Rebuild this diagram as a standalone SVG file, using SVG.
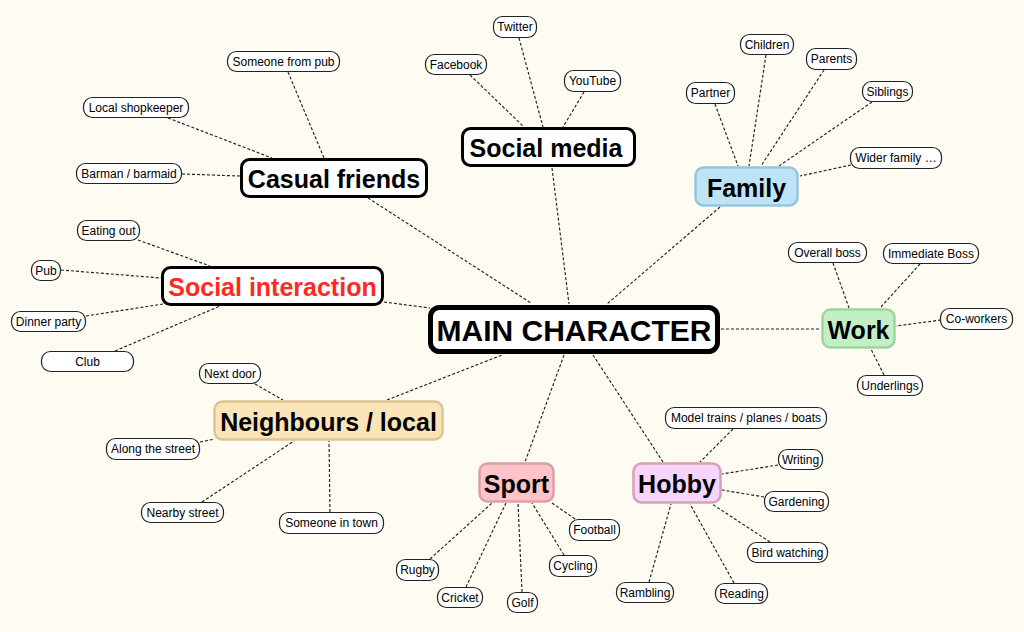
<svg xmlns="http://www.w3.org/2000/svg" width="1024" height="632" viewBox="0 0 1024 632">
<style>
.bg{fill:#fefbf2}
.ln{stroke:#222;stroke-width:1.15;stroke-dasharray:3 2;fill:none}
.leaf rect{fill:#fff;stroke:#222;stroke-width:1.2}
.leaf text{font-family:"Liberation Sans",Arial,sans-serif;font-size:12px;fill:#000;text-anchor:middle;dominant-baseline:central}
.topic text{font-family:"Liberation Sans",Arial,sans-serif;font-size:25px;font-weight:bold;fill:#000;text-anchor:middle;dominant-baseline:central}
.plain rect{fill:#fff;stroke:#000;stroke-width:3}
</style>
<rect class="bg" x="0" y="0" width="1024" height="632"/>
<g id="connectors">
<line class="ln" x1="368" y1="198" x2="531" y2="303"/>
<line class="ln" x1="552" y1="168" x2="569" y2="304"/>
<line class="ln" x1="720" y1="207" x2="607" y2="304"/>
<line class="ln" x1="384" y1="302" x2="430" y2="308"/>
<line class="ln" x1="387" y1="400" x2="502" y2="355"/>
<line class="ln" x1="564" y1="355" x2="525" y2="462"/>
<line class="ln" x1="593" y1="355" x2="663" y2="462"/>
<line class="ln" x1="721" y1="329" x2="821" y2="329"/>
<line class="ln" x1="288" y1="72" x2="324" y2="158"/>
<line class="ln" x1="168" y1="118" x2="272" y2="158"/>
<line class="ln" x1="182" y1="174" x2="240" y2="176"/>
<line class="ln" x1="519" y1="38" x2="543" y2="127"/>
<line class="ln" x1="470" y1="75" x2="524" y2="127"/>
<line class="ln" x1="584" y1="92" x2="563" y2="127"/>
<line class="ln" x1="715" y1="104" x2="738" y2="166"/>
<line class="ln" x1="766" y1="55" x2="749" y2="166"/>
<line class="ln" x1="824" y1="70" x2="761" y2="166"/>
<line class="ln" x1="872" y1="102" x2="779" y2="166"/>
<line class="ln" x1="851" y1="165" x2="800" y2="176"/>
<line class="ln" x1="138" y1="240" x2="210" y2="266"/>
<line class="ln" x1="61" y1="270" x2="161" y2="278"/>
<line class="ln" x1="86" y1="316" x2="163" y2="304"/>
<line class="ln" x1="115" y1="351" x2="220" y2="306"/>
<line class="ln" x1="833" y1="263" x2="849" y2="308"/>
<line class="ln" x1="920" y1="264" x2="880" y2="308"/>
<line class="ln" x1="941" y1="320" x2="896" y2="326"/>
<line class="ln" x1="884" y1="375" x2="871" y2="349"/>
<line class="ln" x1="255" y1="384" x2="283" y2="400"/>
<line class="ln" x1="200" y1="442" x2="215" y2="439"/>
<line class="ln" x1="202" y1="502" x2="294" y2="441"/>
<line class="ln" x1="330" y1="512" x2="329" y2="441"/>
<line class="ln" x1="575" y1="519" x2="552" y2="503"/>
<line class="ln" x1="564" y1="555" x2="532" y2="503"/>
<line class="ln" x1="522" y1="592" x2="518" y2="503"/>
<line class="ln" x1="466" y1="587" x2="506" y2="503"/>
<line class="ln" x1="430" y1="559" x2="492" y2="503"/>
<line class="ln" x1="733" y1="429" x2="700" y2="462"/>
<line class="ln" x1="778" y1="465" x2="722" y2="474"/>
<line class="ln" x1="764" y1="497" x2="722" y2="490"/>
<line class="ln" x1="770" y1="542" x2="712" y2="504"/>
<line class="ln" x1="734" y1="583" x2="690" y2="504"/>
<line class="ln" x1="649" y1="582" x2="671" y2="504"/>
</g>
<g id="main" class="topic"><rect x="430.5" y="307.5" width="287" height="44" rx="9" fill="#fff" stroke="#000" stroke-width="5"/><text x="574" y="330" style="font-size:30px">MAIN CHARACTER</text></g>
<g id="casual-friends" class="topic plain"><rect x="241.5" y="159.5" width="185" height="37" rx="8"/><text x="334" y="178.5">Casual friends</text></g>
<g id="social-media" class="topic plain"><rect x="462.5" y="128.5" width="172" height="37" rx="8"/><text x="546" y="147.5">Social media</text></g>
<g id="social-interaction" class="topic plain"><rect x="162.5" y="267.5" width="220" height="37" rx="8"/><text x="272.5" y="287" style="fill:#ff2a1f">Social interaction</text></g>
<g id="family" class="topic"><rect x="695.5" y="167.5" width="102" height="38" rx="8" fill="#bee3f6" stroke="#97c6dc" stroke-width="2.5"/><text x="746.5" y="187.5">Family</text></g>
<g id="work" class="topic"><rect x="822.5" y="309.5" width="72" height="38" rx="8" fill="#c4efc5" stroke="#9dd59f" stroke-width="2.5"/><text x="858.5" y="329.5">Work</text></g>
<g id="neighbours" class="topic"><rect x="214.5" y="401.5" width="228" height="38" rx="8" fill="#fbe4b7" stroke="#dcc493" stroke-width="2.5"/><text x="328.5" y="421.5">Neighbours / local</text></g>
<g id="sport" class="topic"><rect x="479.5" y="463.5" width="74" height="38" rx="8" fill="#fcc4c8" stroke="#dba0a6" stroke-width="2.5"/><text x="516.5" y="484">Sport</text></g>
<g id="hobby" class="topic"><rect x="633.5" y="463.5" width="87" height="39" rx="8" fill="#f7d4fb" stroke="#d5a1b3" stroke-width="2.5"/><text x="677" y="484">Hobby</text></g>
<g id="someone-from-pub" class="leaf"><rect x="227.5" y="51.5" width="112" height="20" rx="9"/><text x="283.5" y="61.5">Someone from pub</text></g>
<g id="local-shopkeeper" class="leaf"><rect x="83.5" y="97.5" width="105" height="20" rx="9"/><text x="136" y="107.5">Local shopkeeper</text></g>
<g id="barman" class="leaf"><rect x="76.5" y="163.5" width="105" height="20" rx="9"/><text x="129" y="173.5">Barman / barmaid</text></g>
<g id="twitter" class="leaf"><rect x="493.5" y="16.5" width="43" height="21" rx="9"/><text x="515" y="27">Twitter</text></g>
<g id="facebook" class="leaf"><rect x="425.5" y="54.5" width="61" height="20" rx="9"/><text x="456" y="64.5">Facebook</text></g>
<g id="youtube" class="leaf"><rect x="564.5" y="70.5" width="56" height="21" rx="9"/><text x="592.5" y="81">YouTube</text></g>
<g id="children" class="leaf"><rect x="740.5" y="34.5" width="53" height="20" rx="9"/><text x="767" y="44.5">Children</text></g>
<g id="parents" class="leaf"><rect x="806.5" y="48.5" width="50" height="21" rx="9"/><text x="831.5" y="59">Parents</text></g>
<g id="partner" class="leaf"><rect x="686.5" y="82.5" width="48" height="21" rx="9"/><text x="710.5" y="93">Partner</text></g>
<g id="siblings" class="leaf"><rect x="862.5" y="81.5" width="50" height="20" rx="9"/><text x="887.5" y="91.5">Siblings</text></g>
<g id="wider-family" class="leaf"><rect x="850.5" y="147.5" width="91" height="21" rx="9"/><text x="896" y="158">Wider family …</text></g>
<g id="eating-out" class="leaf"><rect x="77.5" y="220.5" width="62" height="20" rx="9"/><text x="108.5" y="230.5">Eating out</text></g>
<g id="pub" class="leaf"><rect x="31.5" y="260.5" width="29" height="20" rx="9"/><text x="46" y="270.5">Pub</text></g>
<g id="dinner-party" class="leaf"><rect x="11.5" y="311.5" width="74" height="20" rx="9"/><text x="48.5" y="321.5">Dinner party</text></g>
<g id="club" class="leaf"><rect x="41.5" y="351.5" width="92" height="20" rx="9"/><text x="87.5" y="361.5">Club</text></g>
<g id="overall-boss" class="leaf"><rect x="788.5" y="242.5" width="78" height="20" rx="9"/><text x="827.5" y="252.5">Overall boss</text></g>
<g id="immediate-boss" class="leaf"><rect x="883.5" y="243.5" width="95" height="20" rx="9"/><text x="931" y="253.5">Immediate Boss</text></g>
<g id="co-workers" class="leaf"><rect x="940.5" y="308.5" width="72" height="21" rx="9"/><text x="976.5" y="319">Co-workers</text></g>
<g id="underlings" class="leaf"><rect x="857.5" y="375.5" width="65" height="20" rx="9"/><text x="890" y="385.5">Underlings</text></g>
<g id="next-door" class="leaf"><rect x="199.5" y="363.5" width="61" height="20" rx="9"/><text x="230" y="373.5">Next door</text></g>
<g id="along-the-street" class="leaf"><rect x="106.5" y="438.5" width="93" height="21" rx="9"/><text x="153" y="449">Along the street</text></g>
<g id="nearby-street" class="leaf"><rect x="141.5" y="502.5" width="82" height="20" rx="9"/><text x="182.5" y="512.5">Nearby street</text></g>
<g id="someone-in-town" class="leaf"><rect x="279.5" y="512.5" width="104" height="21" rx="9"/><text x="331.5" y="523">Someone in town</text></g>
<g id="football" class="leaf"><rect x="569.5" y="519.5" width="50" height="21" rx="9"/><text x="594.5" y="530">Football</text></g>
<g id="cycling" class="leaf"><rect x="549.5" y="555.5" width="47" height="21" rx="9"/><text x="573" y="566">Cycling</text></g>
<g id="rugby" class="leaf"><rect x="396.5" y="559.5" width="42" height="21" rx="9"/><text x="417.5" y="570">Rugby</text></g>
<g id="cricket" class="leaf"><rect x="437.5" y="587.5" width="45" height="20" rx="9"/><text x="460" y="597.5">Cricket</text></g>
<g id="golf" class="leaf"><rect x="507.5" y="592.5" width="30" height="20" rx="9"/><text x="522.5" y="602.5">Golf</text></g>
<g id="model-trains" class="leaf"><rect x="665.5" y="407.5" width="161" height="21" rx="9"/><text x="746" y="418">Model trains / planes / boats</text></g>
<g id="writing" class="leaf"><rect x="778.5" y="449.5" width="44" height="20" rx="9"/><text x="800.5" y="459.5">Writing</text></g>
<g id="gardening" class="leaf"><rect x="764.5" y="491.5" width="64" height="20" rx="9"/><text x="796.5" y="501.5">Gardening</text></g>
<g id="bird-watching" class="leaf"><rect x="747.5" y="542.5" width="80" height="20" rx="9"/><text x="787.5" y="552.5">Bird watching</text></g>
<g id="reading" class="leaf"><rect x="715.5" y="583.5" width="52" height="20" rx="9"/><text x="741.5" y="593.5">Reading</text></g>
<g id="rambling" class="leaf"><rect x="616.5" y="582.5" width="57" height="20" rx="9"/><text x="645" y="592.5">Rambling</text></g>
</svg>
